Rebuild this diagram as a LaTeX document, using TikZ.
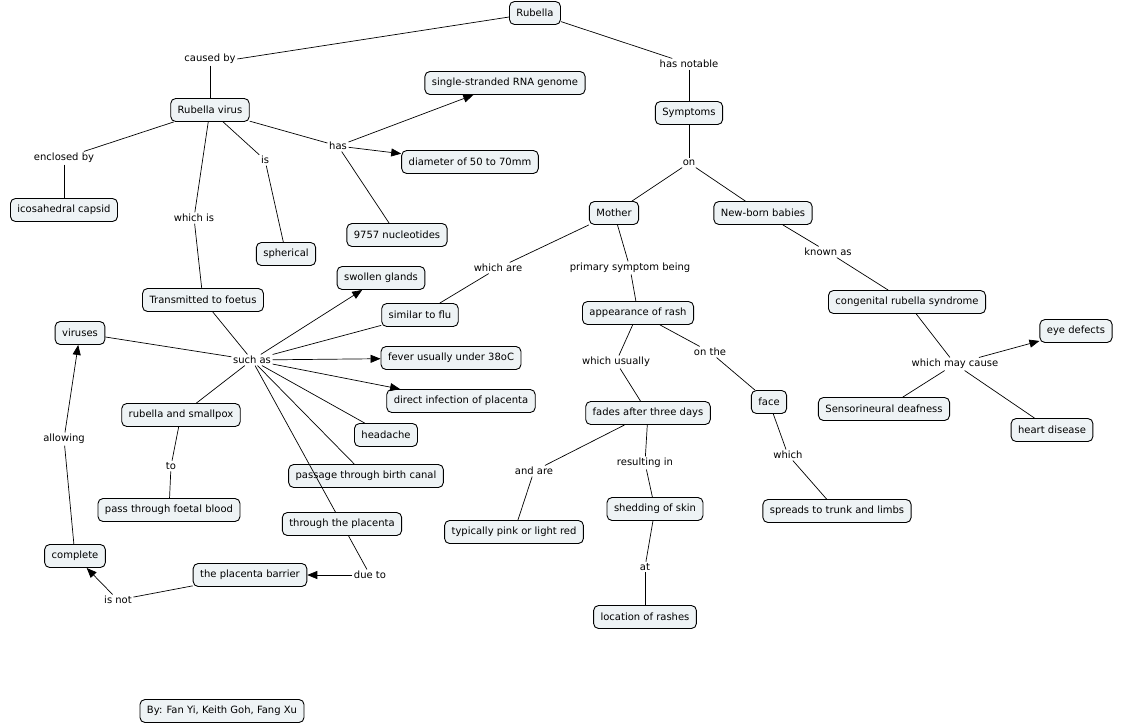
\documentclass[tikz,border=0pt]{standalone}
\usepackage{fontspec}
\setmainfont{DejaVu Sans}
\usetikzlibrary{arrows.meta}
\definecolor{cfill}{HTML}{EEF3F5}
\begin{document}
\begin{tikzpicture}[x=1pt,y=-1pt,
  c/.style={draw=black,fill=cfill,rounded corners=5pt,line width=0.9pt,inner xsep=7pt,minimum height=23pt,font=\fontsize{10}{12}\selectfont},
  l/.style={inner sep=1.5pt,font=\fontsize{10}{12}\selectfont},
  e/.style={line width=0.7pt},
  a/.style={line width=0.7pt,-{Triangle[length=10pt,width=8pt]}}]
\useasboundingbox (0,0) rectangle (1123,726);
% concepts
\node[c] (rub) at (535,13) {Rubella};
\node[c] (rv) at (210,110) {Rubella virus};
\node[c] (ss) at (505,83) {single-stranded RNA genome};
\node[c] (sym) at (689,113) {Symptoms};
\node[c] (dia) at (470,162) {diameter of 50 to 70mm};
\node[c] (ico) at (64,210) {icosahedral capsid};
\node[c] (mot) at (614,213) {Mother};
\node[c] (nb) at (763,213) {New-born babies};
\node[c] (sph) at (286,254) {spherical};
\node[c] (nuc) at (397,235) {9757 nucleotides};
\node[c] (sw) at (381,278) {swollen glands};
\node[c] (tf) at (203,300) {Transmitted to foetus};
\node[c] (flu) at (420,315) {similar to flu};
\node[c] (ar) at (638,313) {appearance of rash};
\node[c] (crs) at (907,302) {congenital rubella syndrome};
\node[c] (vir) at (80,333) {viruses};
\node[c] (fev) at (451,358) {fever usually under 38oC};
\node[c] (eye) at (1076,331) {eye defects};
\node[c] (dip) at (461,401) {direct infection of placenta};
\node[c] (rs) at (181,415) {rubella and smallpox};
\node[c] (hd) at (386,435) {headache};
\node[c] (fad) at (648,413) {fades after three days};
\node[c] (face) at (769,402) {face};
\node[c] (sd) at (884,409) {Sensorineural deafness};
\node[c] (hdis) at (1052,430) {heart disease};
\node[c] (pbc) at (366,476) {passage through birth canal};
\node[c] (pfb) at (169,510) {pass through foetal blood};
\node[c] (shs) at (655,509) {shedding of skin};
\node[c] (stl) at (837,511) {spreads to trunk and limbs};
\node[c] (pink) at (514,532) {typically pink or light red};
\node[c] (ttp) at (342,524) {through the placenta};
\node[c] (comp) at (75,556) {complete};
\node[c] (tpb) at (250,575) {the placenta barrier};
\node[c] (loc) at (645,617) {location of rashes};
\node[c] (by) at (222,711) {By: Fan Yi, Keith Goh, Fang Xu};
% labels
\node[l] (cb) at (210,59) {caused by};
\node[l] (hn) at (689,64) {has notable};
\node[l] (eb) at (64,158) {enclosed by};
\node[l] (is) at (265,160) {is};
\node[l] (has) at (338,146) {has};
\node[l] (wi) at (194,218) {which is};
\node[l] (on) at (689,163) {on};
\node[l] (wa) at (498,268) {which are};
\node[l] (psb) at (630,268) {primary symptom being};
\node[l] (ka) at (828,252) {known as};
\node[l] (sa) at (252,360) {such as};
\node[l] (wu) at (616,362) {which usually};
\node[l] (ont) at (710,352) {on the};
\node[l] (wmc) at (955,364) {which may cause};
\node[l] (to) at (171,466) {to};
\node[l] (all) at (64,439) {allowing};
\node[l] (aa) at (534,471) {and are};
\node[l] (ri) at (645,463) {resulting in};
\node[l] (wh) at (788,455) {which};
\node[l] (at) at (645,567) {at};
\node[l] (dt) at (370,575) {due to};
\node[l] (isn) at (118,600) {is not};
% connectors
\draw[e] (rub) -- (cb.east); \draw[e] (cb) -- (rv);
\draw[e] (rub) -- (hn); \draw[e] (hn) -- (sym);
\draw[e] (rv) -- (eb); \draw[e] (eb) -- (ico);
\draw[e] (rv) -- (is); \draw[e] (is) -- (sph);
\draw[e] (rv) -- (has);
\draw[a] (has) -- (ss); \draw[a] (has) -- (dia); \draw[e] (has) -- (nuc);
\draw[e] (rv) -- (wi); \draw[e] (wi) -- (tf);
\draw[e] (sym) -- (on); \draw[e] (on) -- (mot); \draw[e] (on) -- (nb);
\draw[e] (mot) -- (wa); \draw[e] (wa) -- (flu);
\draw[e] (mot) -- (psb); \draw[e] (psb) -- (ar);
\draw[e] (nb) -- (ka); \draw[e] (ka) -- (crs);
\draw[e] (crs) -- (wmc); \draw[a] (wmc) -- (eye); \draw[e] (wmc) -- (sd); \draw[e] (wmc) -- (hdis);
\draw[e] (tf) -- (sa); \draw[e] (flu) -- (sa); \draw[e] (vir) -- (sa);
\draw[a] (sa) -- (sw); \draw[a] (sa) -- (fev); \draw[a] (sa) -- (dip);
\draw[e] (sa) -- (rs); \draw[e] (sa) -- (hd); \draw[e] (sa) -- (pbc); \draw[e] (sa) -- (ttp);
\draw[e] (rs) -- (to); \draw[e] (to) -- (pfb);
\draw[e] (ttp) -- (dt); \draw[a] (dt) -- (tpb);
\draw[e] (tpb) -- (isn); \draw[a] (isn) -- (comp);
\draw[e] (comp) -- (all); \draw[a] (all) -- (vir);
\draw[e] (ar) -- (wu); \draw[e] (wu) -- (fad);
\draw[e] (ar) -- (ont); \draw[e] (ont) -- (face);
\draw[e] (fad) -- (aa); \draw[e] (aa) -- (pink);
\draw[e] (fad) -- (ri); \draw[e] (ri) -- (shs);
\draw[e] (face) -- (wh); \draw[e] (wh) -- (stl);
\draw[e] (shs) -- (at); \draw[e] (at) -- (loc);
\end{tikzpicture}
\end{document}
